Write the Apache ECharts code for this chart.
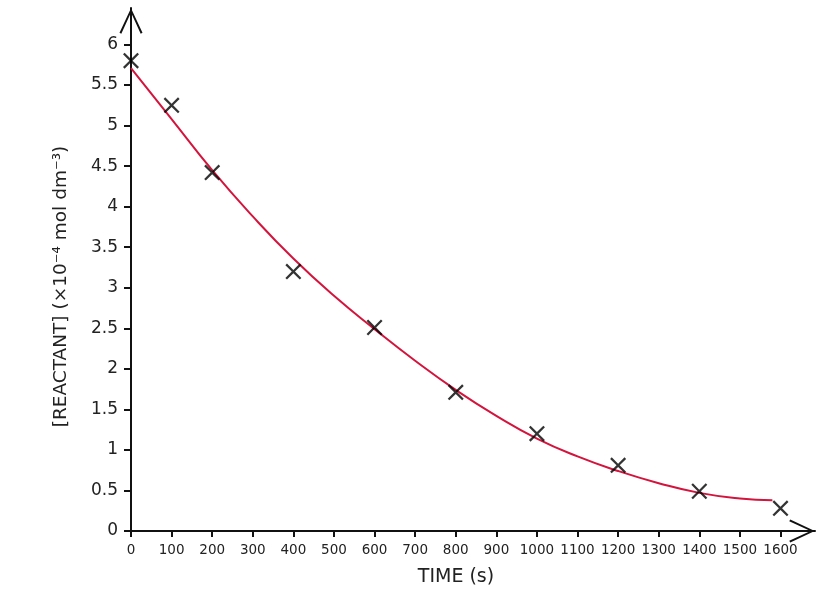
<!DOCTYPE html>
<html>
<head>
<meta charset="utf-8">
<script src="https://cdn.jsdelivr.net/npm/echarts@6/dist/echarts.min.js"></script>
<style>html,body{margin:0;padding:0;background:#fff}#c{width:826px;height:592px}</style>
</head>
<body>
<div id="c"></div>
<script>
// Measured points (crosses)
const timeValues = [0, 100, 200, 400, 600, 800, 1000, 1200, 1400, 1600];
const reactantValues = [5.8, 5.25, 4.42, 3.2, 2.51, 1.71, 1.2, 0.81, 0.49, 0.28];
// Best-fit curve
const curveTime = [0, 100, 200, 300, 400, 500, 600, 700, 800, 900, 1000, 1100, 1200, 1300, 1400, 1500, 1580];
const curveValues = [5.71, 5.08, 4.45, 3.88, 3.36, 2.90, 2.49, 2.10, 1.74, 1.42, 1.14, 0.92, 0.74, 0.59, 0.47, 0.40, 0.38];
// Tick labels
const xTicks = [0,100,200,300,400,500,600,700,800,900,1000,1100,1200,1300,1400,1500,1600];
const yTicks = [0,0.5,1,1.5,2,2.5,3,3.5,4,4.5,5,5.5,6];

const chevron = 'path://M0,24.5 L11.5,0 L23,24.5 L21.2,25.5 L11.5,4.2 L1.8,25.5 Z';
const cross = 'path://M0,2 L2,0 L10,8 L18,0 L20,2 L12,10 L20,18 L18,20 L10,12 L2,20 L0,18 L8,10 Z';
const FONT = 'DejaVu Sans';

const chart = echarts.init(document.getElementById('c'));
chart.setOption({
  backgroundColor: '#fff',
  animation: false,
  grid: { left: 131, right: 11, top: 8, bottom: 59, containLabel: false },
  xAxis: {
    type: 'value', min: 0, max: 1685,
    name: 'TIME (s)', nameLocation: 'middle', nameGap: 37,
    nameTextStyle: { fontFamily: FONT, fontSize: 19, color: '#222', padding: [0, 34, 0, 0] },
    axisLine: { show: true, lineStyle: { color: '#111', width: 2 }, symbol: ['none', chevron], symbolSize: [23, 26], symbolOffset: [0, -13] },
    axisTick: { show: true, length: 6, lineStyle: { color: '#111', width: 2 }, customValues: xTicks },
    axisLabel: { fontFamily: FONT, fontSize: 13.5, color: '#222', margin: 12, customValues: xTicks, formatter: v => String(v) },
    splitLine: { show: false }
  },
  yAxis: {
    type: 'value', min: 0, max: 6.45,
    name: '[REACTANT] (×10⁻⁴ mol dm⁻³)', nameLocation: 'middle', nameGap: 60, nameRotate: 90,
    nameTextStyle: { fontFamily: FONT, fontSize: 18.5, color: '#222', padding: [0, 34, 0, 0] },
    axisLine: { show: true, lineStyle: { color: '#111', width: 2 }, symbol: ['none', chevron], symbolSize: [23, 26], symbolOffset: [0, -13] },
    axisTick: { show: true, length: 7, lineStyle: { color: '#111', width: 2 }, customValues: yTicks },
    axisLabel: { fontFamily: FONT, fontSize: 17, color: '#222', margin: 13, customValues: yTicks, formatter: v => String(v) },
    splitLine: { show: false }
  },
  series: [
    {
      type: 'line', name: 'fit', smooth: 0.5, showSymbol: false, symbol: 'none',
      lineStyle: { color: '#d3143c', width: 2 },
      data: curveTime.map((t, i) => [t, curveValues[i]]),
      z: 2
    },
    {
      type: 'scatter', name: 'data', symbol: cross, symbolSize: 16,
      itemStyle: { color: '#000' },
      data: timeValues.map((t, i) => [t, reactantValues[i]]),
      z: 3
    }
  ]
});
</script>
</body>
</html>
